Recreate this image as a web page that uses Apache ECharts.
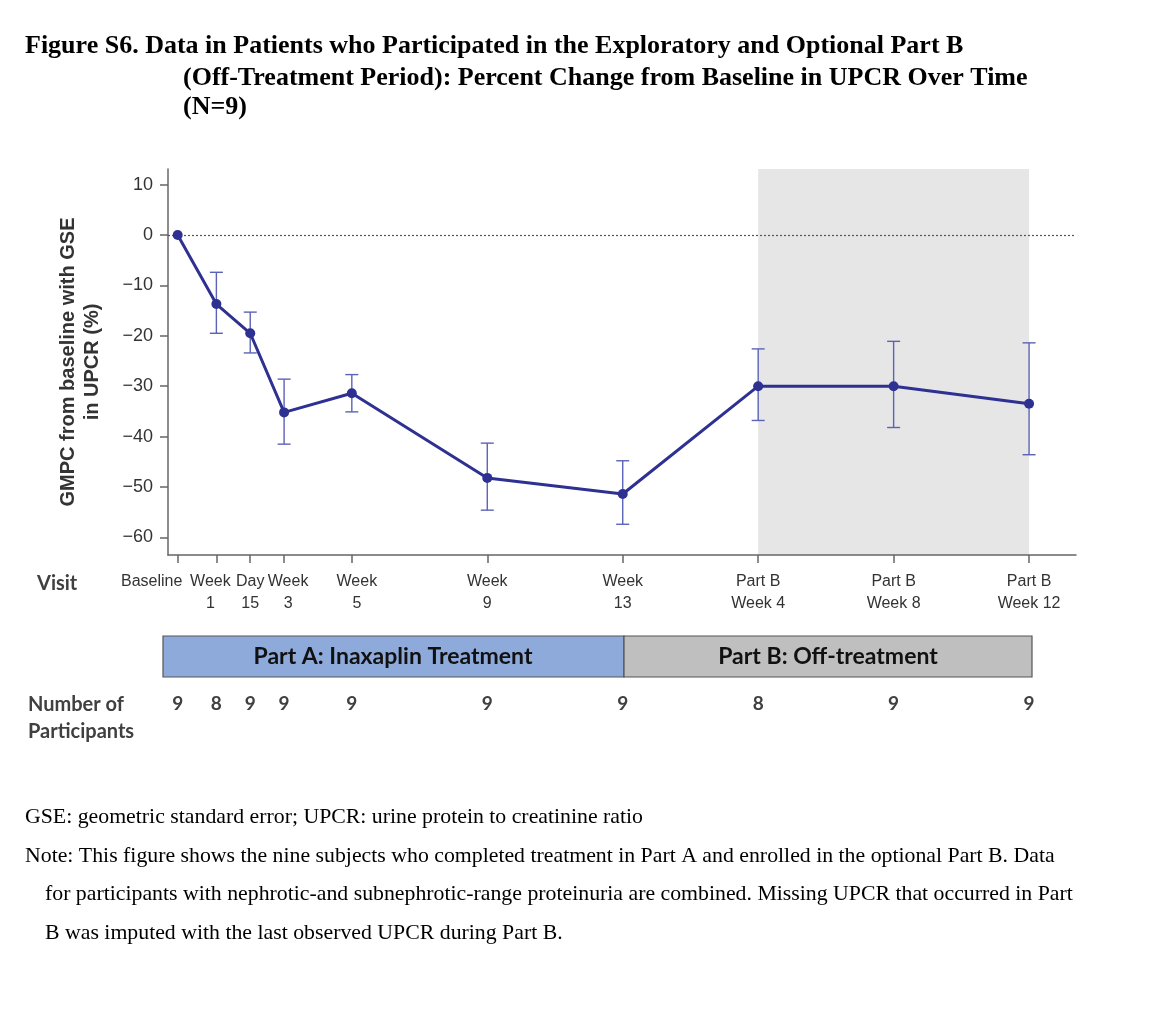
<!DOCTYPE html>
<html>
<head>
<meta charset="utf-8">
<script src="https://cdn.jsdelivr.net/npm/echarts@6/dist/echarts.min.js"></script>
<style>
  html, body { margin: 0; padding: 0; background: #fff; }
  #chart { width: 1160px; height: 1010px; }
</style>
</head>
<body>
<div id="chart"></div>
<script>
  // visit day (x position), visit labels, participant counts
  const visitDays = [0, 8, 15, 22, 36, 64, 92, 120, 148, 176];
  const visitLabels = ['Baseline', 'Week\n1', 'Day\n15', 'Week\n3', 'Week\n5', 'Week\n9', 'Week\n13',
    'Part B\nWeek 4', 'Part B\nWeek 8', 'Part B\nWeek 12'];
  const participants = [9, 8, 9, 9, 9, 9, 9, 8, 9, 9];
  // GMPC (%) and GSE bounds
  const gmpc = [0, -13.7, -19.5, -35.2, -31.4, -48.2, -51.4, -30.0, -30.0, -33.5];
  const gseLow = [null, -19.5, -23.4, -41.5, -35.1, -54.6, -57.4, -36.8, -38.2, -43.6];
  const gseHigh = [null, -7.4, -15.3, -28.6, -27.7, -41.3, -44.8, -22.6, -21.1, -21.4];
  const yTicks = [10, 0, -10, -20, -30, -40, -50, -60];
  const partBRange = [120, 176];

  // crowded early visit labels are nudged sideways so they do not collide
  const labelNudge = [-26, -6, 0, 4, 5, 0, 0, 0, 0, 0];

  const lineColor = '#2e3192';
  const barColor = '#5b63b7';
  const axisColor = '#666';
  const textColor = '#333';

  const lineData = visitDays.map((d, i) => [d, gmpc[i]]);
  const errData = [];
  visitDays.forEach((d, i) => {
    if (gseLow[i] !== null) errData.push([d, gseLow[i], gseHigh[i]]);
  });

  const chart = echarts.init(document.getElementById('chart'));

  const option = {
    animation: false,
    backgroundColor: '#fff',
    grid: { left: 168, right: 84, top: 169, bottom: 455 },
    xAxis: {
      type: 'value',
      min: -2,
      max: 185.7,
      splitLine: { show: false },
      axisLine: { show: true, onZero: false, lineStyle: { color: axisColor, width: 1.5 } },
      axisTick: { show: true, customValues: visitDays, length: 8, lineStyle: { color: axisColor, width: 1.5 } },
      axisLabel: { show: false }
    },
    yAxis: {
      type: 'value',
      min: -63.5,
      max: 13.1,
      splitLine: { show: false },
      axisLine: { show: true, onZero: false, lineStyle: { color: axisColor, width: 1.5 } },
      axisTick: { show: true, customValues: yTicks, length: 8, lineStyle: { color: axisColor, width: 1.5 } },
      axisLabel: {
        customValues: yTicks,
        formatter: v => String(v).replace('-', '\u2212'),
        color: textColor,
        fontFamily: 'Liberation Sans',
        fontSize: 18,
        margin: 15
      },
      name: 'GMPC from baseline with GSE\nin UPCR (%)',
      nameLocation: 'middle',
      nameRotate: 90,
      nameGap: 64,
      nameTextStyle: {
        color: textColor,
        fontFamily: 'Liberation Sans',
        fontWeight: 'bold',
        fontSize: 20,
        lineHeight: 24
      }
    },
    series: [
      {
        type: 'line',
        data: lineData,
        color: lineColor,
        lineStyle: { width: 3, color: lineColor },
        symbol: 'circle',
        symbolSize: 10,
        itemStyle: { color: lineColor },
        z: 5,
        markArea: {
          silent: true,
          itemStyle: { color: '#e6e6e6' },
          data: [[{ xAxis: partBRange[0] }, { xAxis: partBRange[1] }]],
          z: 0
        },
        markLine: {
          silent: true,
          symbol: 'none',
          label: { show: false },
          lineStyle: { type: [2, 2], color: '#555', width: 1.2 },
          data: [{ yAxis: 0 }]
        }
      },
      {
        type: 'custom',
        data: errData,
        z: 4,
        renderItem: function (params, api) {
          const x = api.value(0);
          const lo = api.coord([x, api.value(1)]);
          const hi = api.coord([x, api.value(2)]);
          const w = 6.5;
          const style = { stroke: barColor, lineWidth: 1.4 };
          return {
            type: 'group',
            children: [
              { type: 'line', shape: { x1: lo[0], y1: lo[1], x2: hi[0], y2: hi[1] }, style: style },
              { type: 'line', shape: { x1: lo[0] - w, y1: lo[1], x2: lo[0] + w, y2: lo[1] }, style: style },
              { type: 'line', shape: { x1: hi[0] - w, y1: hi[1], x2: hi[0] + w, y2: hi[1] }, style: style }
            ]
          };
        }
      }
    ],
    graphic: []
  };

  chart.setOption(option);

  // title, footnotes, visit labels, phase boxes and participant counts
  const serif = 'Liberation Serif';
  const sans = 'Lato';
  const g = [];
  const titleStyle = { fontFamily: serif, fontWeight: 'bold', fontSize: 26, fill: '#000' };
  g.push({ type: 'text', left: 25, top: 33, style: Object.assign({ text: 'Figure S6. Data in Patients who Participated in the Exploratory and Optional Part B' }, titleStyle) });
  g.push({ type: 'text', left: 183, top: 65, style: Object.assign({ text: '(Off-Treatment Period): Percent Change from Baseline in UPCR Over Time' }, titleStyle) });
  g.push({ type: 'text', left: 183, top: 94, style: Object.assign({ text: '(N=9)' }, titleStyle) });

  const noteStyle = { fontFamily: serif, fontSize: 21.8, fill: '#000' };
  const notes = [
    [25, 806, 'GSE: geometric standard error; UPCR: urine protein to creatinine ratio'],
    [25, 845, 'Note: This figure shows the nine subjects who completed treatment in Part A and enrolled in the optional Part B. Data'],
    [45, 883, 'for participants with nephrotic-and subnephrotic-range proteinuria are combined. Missing UPCR that occurred in Part'],
    [45, 922, 'B was imputed with the last observed UPCR during Part B.']
  ];
  notes.forEach(n => g.push({ type: 'text', left: n[0], top: n[1], style: Object.assign({ text: n[2] }, noteStyle) }));

  const labStyle = { fontFamily: sans, fontWeight: 'bold', fontSize: 20, fill: '#404040' };
  g.push({ type: 'text', left: 37, top: 574, style: Object.assign({ text: 'Visit' }, labStyle) });
  g.push({ type: 'text', left: 28, top: 691, style: Object.assign({ text: 'Number of\nParticipants', lineHeight: 27 }, labStyle) });

  g.push({ type: 'rect', shape: { x: 163, y: 636, width: 461, height: 41 }, style: { fill: '#8eaadb', stroke: '#555', lineWidth: 1.2 } });
  g.push({ type: 'rect', shape: { x: 624, y: 636, width: 408, height: 41 }, style: { fill: '#bfbfbf', stroke: '#555', lineWidth: 1.2 } });
  const boxText = { fontFamily: sans, fontWeight: 'bold', fontSize: 23, fill: '#111', align: 'center', verticalAlign: 'middle' };
  g.push({ type: 'text', x: 393, y: 657, style: Object.assign({ text: 'Part A: Inaxaplin Treatment' }, boxText) });
  g.push({ type: 'text', x: 828, y: 657, style: Object.assign({ text: 'Part B: Off-treatment' }, boxText) });

  visitDays.forEach((d, i) => {
    const px = chart.convertToPixel({ xAxisIndex: 0 }, d);
    g.push({ type: 'text', x: px + labelNudge[i], y: 571, style: { text: visitLabels[i], fontFamily: 'Liberation Sans', fontSize: 16, lineHeight: 22, fill: textColor, align: 'center', verticalAlign: 'top' } });
    g.push({ type: 'text', x: px, y: 704, style: { text: String(participants[i]), fontFamily: sans, fontWeight: 'bold', fontSize: 19, fill: '#404040', align: 'center', verticalAlign: 'middle' } });
  });

  chart.setOption({ graphic: g });
</script>
</body>
</html>
